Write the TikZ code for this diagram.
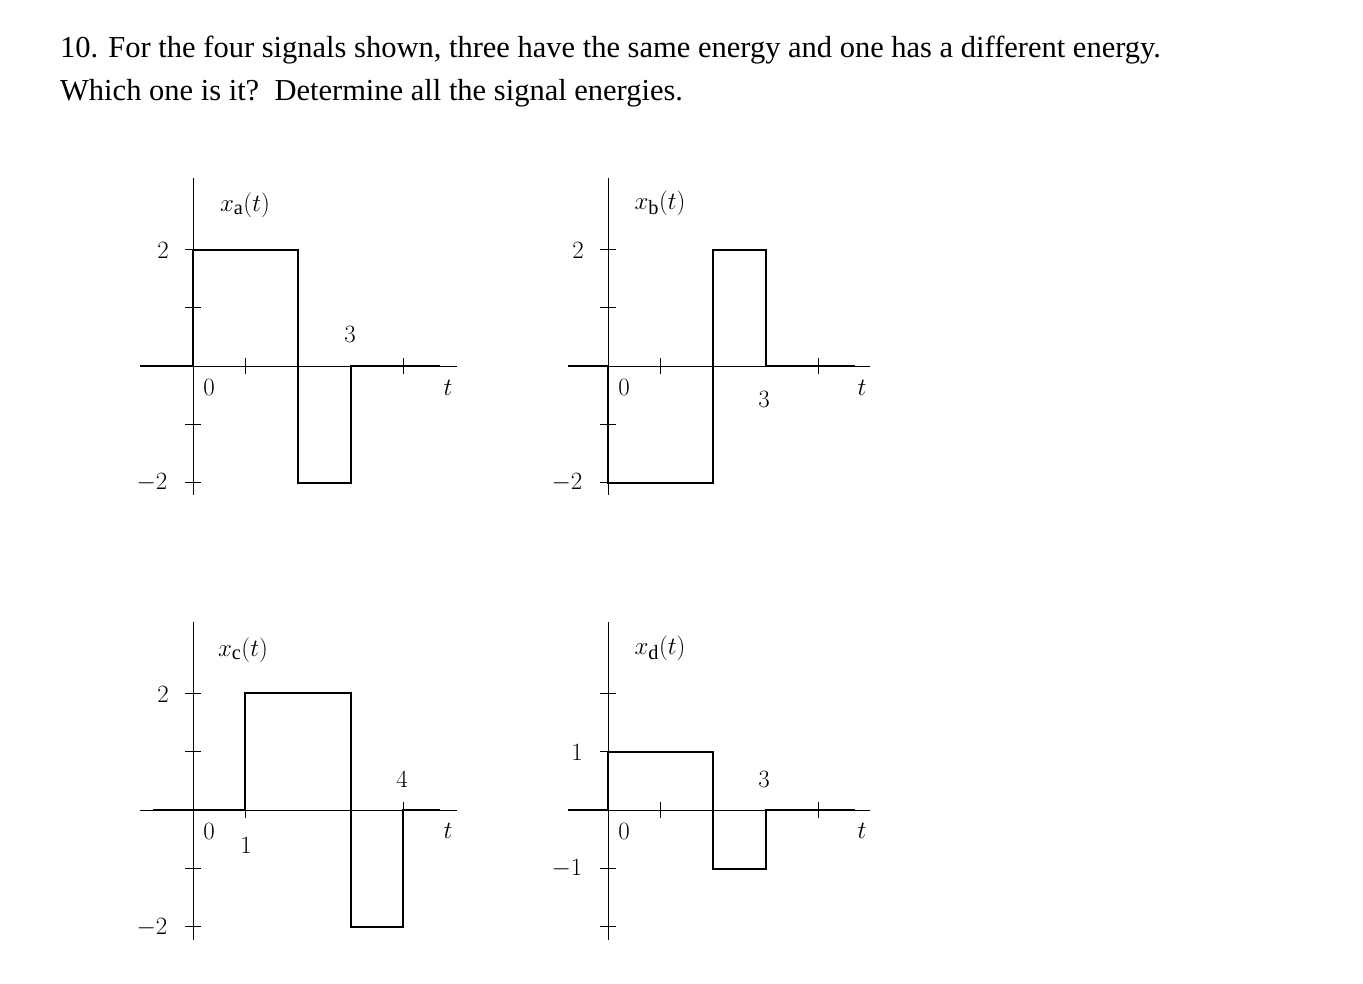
\documentclass[tikz,border=0pt]{standalone}
\usepackage{fontspec}
\setmainfont{Liberation Serif}
\begin{document}
\begin{tikzpicture}[x=1pt,y=-1pt,
  ax/.style={line width=0.9pt},
  sig/.style={line width=2.6pt,line join=miter},
  lab/.style={font=\fontsize{29}{32}\selectfont,inner sep=0pt}]
\useasboundingbox (0,0) rectangle (1363,984);
\node[anchor=base west,font=\fontsize{30.5}{36}\selectfont,inner sep=0pt] (t1) at (60,58) {10. For the four signals shown, three have the same energy and one has a different energy.};
\node[anchor=base west,font=\fontsize{30.5}{36}\selectfont,inner sep=0pt] (t2) at (60,101) {Which one is it?\ \ Determine all the signal energies.};
% axes: #1 x0, #2 y0, #3 ytop, #4 ybottom, #5 xleft, #6 xright
\newcommand\myaxes[6]{%
  \draw[ax] (#1,#3) -- (#1,#4);
  \draw[ax] (#5,#2) -- (#6,#2);
  \foreach \k in {-2,-1,1,2} \draw[ax] (#1-8,#2-58.3*\k) -- (#1+8,#2-58.3*\k);
  \foreach \k in {1,4} \draw[ax] (#1+52.5*\k,#2-8) -- (#1+52.5*\k,#2+8);
}
\myaxes{193}{366}{178}{495}{140}{457}
\myaxes{608}{366}{178}{495}{568}{870}
\myaxes{193}{810}{622}{940}{140}{457}
\myaxes{608}{810}{622}{940}{568}{870}
% signals
\draw[sig] (140,366) -- (193,366) -- (193,250) -- (298,250) -- (298,483) -- (351,483) -- (351,366) -- (440,366);
\draw[sig] (568,366) -- (608,366) -- (608,483) -- (713,483) -- (713,250) -- (766,250) -- (766,366) -- (855,366);
\draw[sig] (153,810) -- (245,810) -- (245,693) -- (351,693) -- (351,927) -- (403,927) -- (403,810) -- (440,810);
\draw[sig] (568,810) -- (608,810) -- (608,752) -- (713,752) -- (713,869) -- (766,869) -- (766,810) -- (855,810);
% labels
\node[lab] (la) at (245,205) {$x_{\mathrm a}(t)$};
\node[lab] (lb) at (660,203) {$x_{\mathrm b}(t)$};
\node[lab] (lc) at (243,650) {$x_{\mathrm c}(t)$};
\node[lab] (ld) at (660,648) {$x_{\mathrm d}(t)$};
\node[lab] (a1) at (163,250) {$2$};
\node[lab] (a2) at (152,483) {$-2$};
\node[lab] (a3) at (209,387) {$0$};
\node[lab] (a4) at (350,334) {$3$};
\node[lab] (a5) at (448,388) {$t$};
\node[lab] (b1) at (578,250) {$2$};
\node[lab] (b2) at (567,483) {$-2$};
\node[lab] (b3) at (624,387) {$0$};
\node[lab] (b4) at (764,399) {$3$};
\node[lab] (b5) at (862,388) {$t$};
\node[lab] (c1) at (163,694) {$2$};
\node[lab] (c2) at (152,928) {$-2$};
\node[lab] (c3) at (209,831) {$0$};
\node[lab] (c4) at (246,845) {$1$};
\node[lab] (c5) at (402,779) {$4$};
\node[lab] (c6) at (448,831) {$t$};
\node[lab] (d1) at (577,752) {$1$};
\node[lab] (d2) at (567,869) {$-1$};
\node[lab] (d3) at (624,831) {$0$};
\node[lab] (d4) at (764,779) {$3$};
\node[lab] (d5) at (862,831) {$t$};
\end{tikzpicture}
\end{document}
